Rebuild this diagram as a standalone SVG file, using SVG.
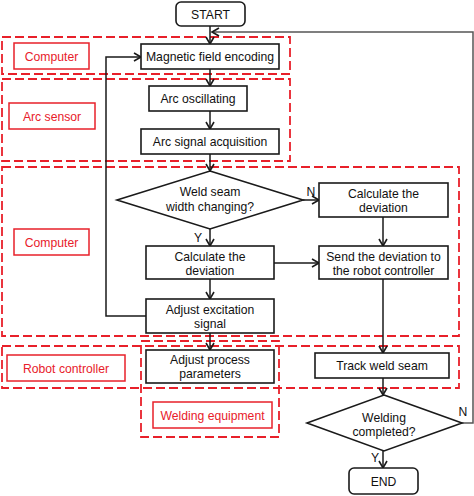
<svg xmlns="http://www.w3.org/2000/svg" width="474" height="496" viewBox="0 0 474 496">
<style>
.box{fill:#fff;stroke:#1a1a1a;stroke-width:1.6}
.grp{fill:none;stroke:#e8202a;stroke-width:1.8;stroke-dasharray:9 4}
.lab{fill:#fff;stroke:#e8202a;stroke-width:1.5}
.t{font-family:"Liberation Sans",Arial,sans-serif;font-size:12.2px;fill:#111;text-anchor:middle}
.r{font-family:"Liberation Sans",Arial,sans-serif;font-size:12.2px;fill:#e8202a;text-anchor:middle}
.c{fill:none;stroke:#1a1a1a;stroke-width:1.5}
</style>
<defs>
<marker id="ah" markerWidth="10" markerHeight="10" refX="8" refY="5" orient="auto" markerUnits="userSpaceOnUse">
<path d="M1,1 L8,5 L1,9" fill="none" stroke="#1a1a1a" stroke-width="1.6"/>
</marker>
</defs>
<rect width="474" height="496" fill="#fff"/>
<g id="groups">
<rect class="grp" x="2" y="37" width="288" height="37"/>
<rect class="grp" x="2" y="79" width="288" height="82"/>
<rect class="grp" x="2" y="167" width="457" height="169"/>
<rect class="grp" x="2" y="346" width="457" height="42"/>
<rect class="grp" x="141" y="341" width="138" height="96"/>
</g>
<g id="labels">
<g id="lab-computer1"><rect class="lab" x="14" y="43" width="75" height="26"/><text class="r" x="51.5" y="60.5">Computer</text></g>
<g id="lab-arcsensor"><rect class="lab" x="9" y="103" width="86" height="26"/><text class="r" x="52" y="120.5">Arc sensor</text></g>
<g id="lab-computer2"><rect class="lab" x="14" y="229" width="75" height="26"/><text class="r" x="51.5" y="246.5">Computer</text></g>
<g id="lab-robot"><rect class="lab" x="7" y="355" width="118" height="26"/><text class="r" x="66" y="372.5">Robot controller</text></g>
<g id="lab-welding"><rect class="lab" x="153" y="402" width="119" height="26"/><text class="r" x="212.5" y="419.5">Welding equipment</text></g>
</g>
<g id="connectors">
<line class="c" x1="210" y1="26" x2="210" y2="44" marker-end="url(#ah)"/>
<polyline class="c" points="462,423 473,423 473,32 212,32" marker-end="url(#ah)" style="stroke:#555"/>
<line class="c" x1="210" y1="69" x2="210" y2="86" marker-end="url(#ah)"/>
<line class="c" x1="210" y1="111" x2="210" y2="129" marker-end="url(#ah)"/>
<line class="c" x1="210" y1="154" x2="210" y2="171" marker-end="url(#ah)"/>
<line class="c" x1="303" y1="200" x2="319" y2="200" marker-end="url(#ah)"/>
<line class="c" x1="383" y1="217" x2="383" y2="246" marker-end="url(#ah)"/>
<line class="c" x1="210" y1="229" x2="210" y2="246" marker-end="url(#ah)"/>
<line class="c" x1="274" y1="263" x2="319" y2="263" marker-end="url(#ah)"/>
<line class="c" x1="210" y1="279" x2="210" y2="299" marker-end="url(#ah)"/>
<polyline class="c" points="146,316 106,316 106,57 141,57" marker-end="url(#ah)"/>
<line class="c" x1="210" y1="333" x2="210" y2="350" marker-end="url(#ah)"/>
<line class="c" x1="383" y1="279" x2="383" y2="353" marker-end="url(#ah)"/>
<line class="c" x1="383" y1="378" x2="383" y2="395" marker-end="url(#ah)"/>
<line class="c" x1="383" y1="451" x2="383" y2="468" marker-end="url(#ah)"/>
<text class="t" x="311" y="196">N</text>
<text class="t" x="198" y="242">Y</text>
<text class="t" x="463" y="416">N</text>
<text class="t" x="375" y="462">Y</text>
</g>
<g id="start"><rect class="box" x="176" y="2" width="69" height="24" rx="5"/><text class="t" x="210.5" y="18.5">START</text></g>
<g id="magnetic"><rect class="box" x="141" y="44" width="138" height="25"/><text class="t" x="210" y="61">Magnetic field encoding</text></g>
<g id="arcosc"><rect class="box" x="149" y="86" width="98" height="25"/><text class="t" x="198" y="103">Arc oscillating</text></g>
<g id="arcsig"><rect class="box" x="141" y="129" width="138" height="25"/><text class="t" x="210" y="146">Arc signal acquisition</text></g>
<g id="weldseam"><polygon class="box" points="210,171 303,200 210,229 117,200"/><text class="t" x="210" y="196">Weld seam</text><text class="t" x="210" y="211">width changing?</text></g>
<g id="calcR"><rect class="box" x="319" y="183" width="129" height="34"/><text class="t" x="383.5" y="198">Calculate the</text><text class="t" x="383.5" y="212">deviation</text></g>
<g id="calcL"><rect class="box" x="146" y="246" width="128" height="33"/><text class="t" x="210" y="261">Calculate the</text><text class="t" x="210" y="275">deviation</text></g>
<g id="send"><rect class="box" x="319" y="246" width="129" height="33"/><text class="t" x="383.5" y="261">Send the deviation to</text><text class="t" x="383.5" y="275">the robot controller</text></g>
<g id="adjexc"><rect class="box" x="146" y="299" width="128" height="34"/><text class="t" x="210" y="314">Adjust excitation</text><text class="t" x="210" y="328">signal</text></g>
<g id="adjproc"><rect class="box" x="146" y="350" width="128" height="33"/><text class="t" x="210" y="364">Adjust process</text><text class="t" x="210" y="378">parameters</text></g>
<g id="track"><rect class="box" x="315" y="353" width="134" height="25"/><text class="t" x="382" y="370">Track weld seam</text></g>
<g id="weldcomp"><polygon class="box" points="384,395 462,423 384,451 307,423"/><text class="t" x="384" y="422">Welding</text><text class="t" x="384" y="436">completed?</text></g>
<g id="end"><rect class="box" x="349" y="468" width="69" height="26" rx="5"/><text class="t" x="383.5" y="485.5">END</text></g>
</svg>
